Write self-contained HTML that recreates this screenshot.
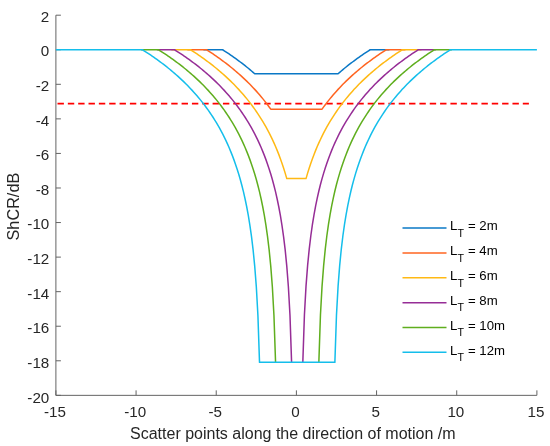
<!DOCTYPE html>
<html><head><meta charset="utf-8"><title>ShCR</title>
<style>html,body{margin:0;padding:0;background:#fff;}body{width:550px;height:446px;position:relative;overflow:hidden;font-family:"Liberation Sans",sans-serif;}</style>
</head><body>
<svg width="550" height="446" viewBox="0 0 550 446" style="position:absolute;left:0;top:0">
<rect width="550" height="446" fill="#fff"/>
<g stroke="#646464" stroke-width="1" fill="none">
<path d="M55.9,15.19 V395.35 H536.9"/>
<path d="M55.90,395.35 v-5"/>
<path d="M136.07,395.35 v-5"/>
<path d="M216.23,395.35 v-5"/>
<path d="M296.40,395.35 v-5"/>
<path d="M376.57,395.35 v-5"/>
<path d="M456.73,395.35 v-5"/>
<path d="M536.90,395.35 v-5"/>
<path d="M55.9,395.35 h5"/>
<path d="M55.9,360.79 h5"/>
<path d="M55.9,326.23 h5"/>
<path d="M55.9,291.67 h5"/>
<path d="M55.9,257.11 h5"/>
<path d="M55.9,222.55 h5"/>
<path d="M55.9,187.99 h5"/>
<path d="M55.9,153.43 h5"/>
<path d="M55.9,118.87 h5"/>
<path d="M55.9,84.31 h5"/>
<path d="M55.9,49.75 h5"/>
<path d="M55.9,15.19 h5"/>
</g>
<path d="M57.5,103.62 H528.9" stroke="#FF0000" stroke-width="1.6" stroke-dasharray="6.4,3.94" fill="none"/>
<path d="M203.41,49.75 L205.01,49.75 L206.61,49.75 L208.22,49.75 L209.82,49.75 L211.42,49.75 L213.03,49.75 L214.63,49.75 L216.23,49.75 L217.84,49.75 L219.44,49.75 L221.04,49.75 L222.65,49.75 L224.25,50.78 L225.85,51.83 L227.46,52.89 L229.06,53.97 L230.66,55.06 L232.27,56.17 L233.87,57.30 L235.47,58.44 L237.08,59.60 L238.68,60.78 L240.28,61.98 L241.89,63.20 L243.49,64.44 L245.09,65.70 L246.70,66.98 L248.30,68.28 L249.90,69.60 L251.51,70.95 L253.11,72.33 L254.71,73.72 L256.32,73.72 L257.92,73.72 L259.52,73.72 L261.13,73.72 L262.73,73.72 L264.33,73.72 L265.94,73.72 L267.54,73.72 L269.14,73.72 L270.75,73.72 L272.35,73.72 L273.95,73.72 L275.56,73.72 L277.16,73.72 L278.76,73.72 L280.37,73.72 L281.97,73.72 L283.57,73.72 L285.18,73.72 L286.78,73.72 L288.38,73.72 L289.99,73.72 L291.59,73.72 L293.19,73.72 L294.80,73.72 L296.40,73.72 L298.00,73.72 L299.61,73.72 L301.21,73.72 L302.81,73.72 L304.42,73.72 L306.02,73.72 L307.62,73.72 L309.23,73.72 L310.83,73.72 L312.43,73.72 L314.04,73.72 L315.64,73.72 L317.24,73.72 L318.85,73.72 L320.45,73.72 L322.05,73.72 L323.66,73.72 L325.26,73.72 L326.86,73.72 L328.47,73.72 L330.07,73.72 L331.67,73.72 L333.28,73.72 L334.88,73.72 L336.48,73.72 L338.09,73.72 L339.69,72.33 L341.29,70.95 L342.90,69.60 L344.50,68.28 L346.10,66.98 L347.71,65.70 L349.31,64.44 L350.91,63.20 L352.52,61.98 L354.12,60.78 L355.72,59.60 L357.33,58.44 L358.93,57.30 L360.53,56.17 L362.14,55.06 L363.74,53.97 L365.34,52.89 L366.95,51.83 L368.55,50.78 L370.15,49.75 L371.76,49.75 L373.36,49.75 L374.96,49.75 L376.57,49.75 L378.17,49.75 L379.77,49.75 L381.38,49.75 L382.98,49.75 L384.58,49.75 L386.19,49.75 L387.79,49.75 L389.39,49.75" fill="none" stroke="#0A78C6" stroke-width="1.5" stroke-linejoin="round"/>
<path d="M187.37,49.75 L188.98,49.75 L190.58,49.75 L192.18,49.75 L193.79,49.75 L195.39,49.75 L196.99,49.75 L198.60,49.75 L200.20,49.75 L201.80,49.75 L203.41,49.75 L205.01,49.75 L206.61,49.75 L208.22,50.78 L209.82,51.83 L211.42,52.89 L213.03,53.97 L214.63,55.06 L216.23,56.17 L217.84,57.30 L219.44,58.44 L221.04,59.60 L222.65,60.78 L224.25,61.98 L225.85,63.20 L227.46,64.44 L229.06,65.70 L230.66,66.98 L232.27,68.28 L233.87,69.60 L235.47,70.95 L237.08,72.33 L238.68,73.72 L240.28,75.15 L241.89,76.60 L243.49,78.09 L245.09,79.60 L246.70,81.14 L248.30,82.72 L249.90,84.33 L251.51,85.97 L253.11,87.65 L254.71,89.37 L256.32,91.13 L257.92,92.93 L259.52,94.78 L261.13,96.68 L262.73,98.62 L264.33,100.61 L265.94,102.66 L267.54,104.77 L269.14,106.93 L270.75,109.16 L272.35,109.16 L273.95,109.16 L275.56,109.16 L277.16,109.16 L278.76,109.16 L280.37,109.16 L281.97,109.16 L283.57,109.16 L285.18,109.16 L286.78,109.16 L288.38,109.16 L289.99,109.16 L291.59,109.16 L293.19,109.16 L294.80,109.16 L296.40,109.16 L298.00,109.16 L299.61,109.16 L301.21,109.16 L302.81,109.16 L304.42,109.16 L306.02,109.16 L307.62,109.16 L309.23,109.16 L310.83,109.16 L312.43,109.16 L314.04,109.16 L315.64,109.16 L317.24,109.16 L318.85,109.16 L320.45,109.16 L322.05,109.16 L323.66,106.93 L325.26,104.77 L326.86,102.66 L328.47,100.61 L330.07,98.62 L331.67,96.68 L333.28,94.78 L334.88,92.93 L336.48,91.13 L338.09,89.37 L339.69,87.65 L341.29,85.97 L342.90,84.33 L344.50,82.72 L346.10,81.14 L347.71,79.60 L349.31,78.09 L350.91,76.60 L352.52,75.15 L354.12,73.72 L355.72,72.33 L357.33,70.95 L358.93,69.60 L360.53,68.28 L362.14,66.98 L363.74,65.70 L365.34,64.44 L366.95,63.20 L368.55,61.98 L370.15,60.78 L371.76,59.60 L373.36,58.44 L374.96,57.30 L376.57,56.17 L378.17,55.06 L379.77,53.97 L381.38,52.89 L382.98,51.83 L384.58,50.78 L386.19,49.75 L387.79,49.75 L389.39,49.75 L391.00,49.75 L392.60,49.75 L394.20,49.75 L395.81,49.75 L397.41,49.75 L399.01,49.75 L400.62,49.75 L402.22,49.75 L403.82,49.75 L405.43,49.75" fill="none" stroke="#FF6420" stroke-width="1.5" stroke-linejoin="round"/>
<path d="M171.34,49.75 L172.94,49.75 L174.55,49.75 L176.15,49.75 L177.75,49.75 L179.36,49.75 L180.96,49.75 L182.56,49.75 L184.17,49.75 L185.77,49.75 L187.37,49.75 L188.98,49.75 L190.58,49.75 L192.18,50.78 L193.79,51.83 L195.39,52.89 L196.99,53.97 L198.60,55.06 L200.20,56.17 L201.80,57.30 L203.41,58.44 L205.01,59.60 L206.61,60.78 L208.22,61.98 L209.82,63.20 L211.42,64.44 L213.03,65.70 L214.63,66.98 L216.23,68.28 L217.84,69.60 L219.44,70.95 L221.04,72.33 L222.65,73.72 L224.25,75.15 L225.85,76.60 L227.46,78.09 L229.06,79.60 L230.66,81.14 L232.27,82.72 L233.87,84.33 L235.47,85.97 L237.08,87.65 L238.68,89.37 L240.28,91.13 L241.89,92.93 L243.49,94.78 L245.09,96.68 L246.70,98.62 L248.30,100.61 L249.90,102.66 L251.51,104.77 L253.11,106.93 L254.71,109.16 L256.32,111.46 L257.92,113.84 L259.52,116.29 L261.13,118.82 L262.73,121.44 L264.33,124.16 L265.94,126.97 L267.54,129.90 L269.14,132.95 L270.75,136.12 L272.35,139.44 L273.95,142.91 L275.56,146.55 L277.16,150.37 L278.76,154.40 L280.37,158.65 L281.97,163.17 L283.57,167.97 L285.18,173.10 L286.78,178.60 L288.38,178.60 L289.99,178.60 L291.59,178.60 L293.19,178.60 L294.80,178.60 L296.40,178.60 L298.00,178.60 L299.61,178.60 L301.21,178.60 L302.81,178.60 L304.42,178.60 L306.02,178.60 L307.62,173.10 L309.23,167.97 L310.83,163.17 L312.43,158.65 L314.04,154.40 L315.64,150.37 L317.24,146.55 L318.85,142.91 L320.45,139.44 L322.05,136.12 L323.66,132.95 L325.26,129.90 L326.86,126.97 L328.47,124.16 L330.07,121.44 L331.67,118.82 L333.28,116.29 L334.88,113.84 L336.48,111.46 L338.09,109.16 L339.69,106.93 L341.29,104.77 L342.90,102.66 L344.50,100.61 L346.10,98.62 L347.71,96.68 L349.31,94.78 L350.91,92.93 L352.52,91.13 L354.12,89.37 L355.72,87.65 L357.33,85.97 L358.93,84.33 L360.53,82.72 L362.14,81.14 L363.74,79.60 L365.34,78.09 L366.95,76.60 L368.55,75.15 L370.15,73.72 L371.76,72.33 L373.36,70.95 L374.96,69.60 L376.57,68.28 L378.17,66.98 L379.77,65.70 L381.38,64.44 L382.98,63.20 L384.58,61.98 L386.19,60.78 L387.79,59.60 L389.39,58.44 L391.00,57.30 L392.60,56.17 L394.20,55.06 L395.81,53.97 L397.41,52.89 L399.01,51.83 L400.62,50.78 L402.22,49.75 L403.82,49.75 L405.43,49.75 L407.03,49.75 L408.63,49.75 L410.24,49.75 L411.84,49.75 L413.44,49.75 L415.05,49.75 L416.65,49.75 L418.25,49.75 L419.86,49.75 L421.46,49.75" fill="none" stroke="#FFB914" stroke-width="1.5" stroke-linejoin="round"/>
<path d="M156.91,49.75 L158.51,49.75 L160.12,49.75 L161.72,49.75 L163.32,49.75 L164.93,49.75 L166.53,49.75 L168.13,49.75 L169.74,49.75 L171.34,49.75 L172.94,49.75 L174.55,49.75 L176.15,50.77 L177.75,51.80 L179.36,52.85 L180.96,53.91 L182.56,54.99 L184.17,56.08 L185.77,57.19 L187.37,58.32 L188.98,59.46 L190.58,60.62 L192.18,61.80 L193.79,63.00 L195.39,64.22 L196.99,65.45 L198.60,66.71 L200.20,67.99 L201.80,69.29 L203.41,70.62 L205.01,71.97 L206.61,73.34 L208.22,74.74 L209.82,76.16 L211.42,77.62 L213.03,79.10 L214.63,80.61 L216.23,82.15 L217.84,83.73 L219.44,85.34 L221.04,86.98 L222.65,88.66 L224.25,90.38 L225.85,92.14 L227.46,93.94 L229.06,95.79 L230.66,97.68 L232.27,99.62 L233.87,101.62 L235.47,103.66 L237.08,105.77 L238.68,107.93 L240.28,110.16 L241.89,112.46 L243.49,114.83 L245.09,117.28 L246.70,119.81 L248.30,122.43 L249.90,125.15 L251.51,127.96 L253.11,130.89 L254.71,133.93 L256.32,137.11 L257.92,140.42 L259.52,143.89 L261.13,147.52 L262.73,151.34 L264.33,155.37 L265.94,159.62 L267.54,164.13 L269.14,168.93 L270.75,174.05 L272.35,179.55 L273.95,185.48 L275.56,191.93 L277.16,198.98 L278.76,206.76 L280.37,215.45 L281.97,225.27 L283.57,236.58 L285.18,249.89 L286.78,266.09 L288.38,286.77 L289.99,315.42 L291.59,362.35 M302.81,362.35 L304.42,314.94 L306.02,286.11 L307.62,265.34 L309.23,249.08 L310.83,235.73 L312.43,224.40 L314.04,214.56 L315.64,205.86 L317.24,198.06 L318.85,191.00 L320.45,184.55 L322.05,178.60 L323.66,173.10 L325.26,167.97 L326.86,163.17 L328.47,158.65 L330.07,154.40 L331.67,150.37 L333.28,146.55 L334.88,142.91 L336.48,139.44 L338.09,136.12 L339.69,132.95 L341.29,129.90 L342.90,126.97 L344.50,124.16 L346.10,121.44 L347.71,118.82 L349.31,116.29 L350.91,113.84 L352.52,111.46 L354.12,109.16 L355.72,106.93 L357.33,104.77 L358.93,102.66 L360.53,100.61 L362.14,98.62 L363.74,96.68 L365.34,94.78 L366.95,92.93 L368.55,91.13 L370.15,89.37 L371.76,87.65 L373.36,85.97 L374.96,84.33 L376.57,82.72 L378.17,81.14 L379.77,79.60 L381.38,78.09 L382.98,76.60 L384.58,75.15 L386.19,73.72 L387.79,72.33 L389.39,70.95 L391.00,69.60 L392.60,68.28 L394.20,66.98 L395.81,65.70 L397.41,64.44 L399.01,63.20 L400.62,61.98 L402.22,60.78 L403.82,59.60 L405.43,58.44 L407.03,57.30 L408.63,56.17 L410.24,55.06 L411.84,53.97 L413.44,52.89 L415.05,51.83 L416.65,50.78 L418.25,49.75 L419.86,49.75 L421.46,49.75 L423.06,49.75 L424.67,49.75 L426.27,49.75 L427.87,49.75 L429.48,49.75 L431.08,49.75 L432.68,49.75 L434.29,49.75 L435.89,49.75" fill="none" stroke="#962D96" stroke-width="1.5" stroke-linejoin="round"/>
<path d="M140.88,49.75 L142.48,49.75 L144.08,49.75 L145.69,49.75 L147.29,49.75 L148.89,49.75 L150.50,49.75 L152.10,49.75 L153.70,49.75 L155.31,49.75 L156.91,49.75 L158.51,49.75 L160.12,50.77 L161.72,51.80 L163.32,52.85 L164.93,53.91 L166.53,54.99 L168.13,56.08 L169.74,57.19 L171.34,58.32 L172.94,59.46 L174.55,60.62 L176.15,61.80 L177.75,63.00 L179.36,64.22 L180.96,65.45 L182.56,66.71 L184.17,67.99 L185.77,69.29 L187.37,70.62 L188.98,71.97 L190.58,73.34 L192.18,74.74 L193.79,76.16 L195.39,77.62 L196.99,79.10 L198.60,80.61 L200.20,82.15 L201.80,83.73 L203.41,85.34 L205.01,86.98 L206.61,88.66 L208.22,90.38 L209.82,92.14 L211.42,93.94 L213.03,95.79 L214.63,97.68 L216.23,99.62 L217.84,101.62 L219.44,103.66 L221.04,105.77 L222.65,107.93 L224.25,110.16 L225.85,112.46 L227.46,114.83 L229.06,117.28 L230.66,119.81 L232.27,122.43 L233.87,125.15 L235.47,127.96 L237.08,130.89 L238.68,133.93 L240.28,137.11 L241.89,140.42 L243.49,143.89 L245.09,147.52 L246.70,151.34 L248.30,155.37 L249.90,159.62 L251.51,164.13 L253.11,168.93 L254.71,174.05 L256.32,179.55 L257.92,185.48 L259.52,191.93 L261.13,198.98 L262.73,206.76 L264.33,215.45 L265.94,225.27 L267.54,236.58 L269.14,249.89 L270.75,266.09 L272.35,286.77 L273.95,315.42 L275.56,362.35 M318.85,362.35 L320.45,314.94 L322.05,286.11 L323.66,265.34 L325.26,249.08 L326.86,235.73 L328.47,224.40 L330.07,214.56 L331.67,205.86 L333.28,198.06 L334.88,191.00 L336.48,184.55 L338.09,178.60 L339.69,173.10 L341.29,167.97 L342.90,163.17 L344.50,158.65 L346.10,154.40 L347.71,150.37 L349.31,146.55 L350.91,142.91 L352.52,139.44 L354.12,136.12 L355.72,132.95 L357.33,129.90 L358.93,126.97 L360.53,124.16 L362.14,121.44 L363.74,118.82 L365.34,116.29 L366.95,113.84 L368.55,111.46 L370.15,109.16 L371.76,106.93 L373.36,104.77 L374.96,102.66 L376.57,100.61 L378.17,98.62 L379.77,96.68 L381.38,94.78 L382.98,92.93 L384.58,91.13 L386.19,89.37 L387.79,87.65 L389.39,85.97 L391.00,84.33 L392.60,82.72 L394.20,81.14 L395.81,79.60 L397.41,78.09 L399.01,76.60 L400.62,75.15 L402.22,73.72 L403.82,72.33 L405.43,70.95 L407.03,69.60 L408.63,68.28 L410.24,66.98 L411.84,65.70 L413.44,64.44 L415.05,63.20 L416.65,61.98 L418.25,60.78 L419.86,59.60 L421.46,58.44 L423.06,57.30 L424.67,56.17 L426.27,55.06 L427.87,53.97 L429.48,52.89 L431.08,51.83 L432.68,50.78 L434.29,49.75 L435.89,49.75 L437.49,49.75 L439.10,49.75 L440.70,49.75 L442.30,49.75 L443.91,49.75 L445.51,49.75 L447.11,49.75 L448.72,49.75 L450.32,49.75 L451.92,49.75" fill="none" stroke="#5FAE1E" stroke-width="1.5" stroke-linejoin="round"/>
<path d="M55.90,49.75 L57.50,49.75 L59.11,49.75 L60.71,49.75 L62.31,49.75 L63.92,49.75 L65.52,49.75 L67.12,49.75 L68.73,49.75 L70.33,49.75 L71.93,49.75 L73.54,49.75 L75.14,49.75 L76.74,49.75 L78.35,49.75 L79.95,49.75 L81.55,49.75 L83.16,49.75 L84.76,49.75 L86.36,49.75 L87.97,49.75 L89.57,49.75 L91.17,49.75 L92.78,49.75 L94.38,49.75 L95.98,49.75 L97.59,49.75 L99.19,49.75 L100.79,49.75 L102.40,49.75 L104.00,49.75 L105.60,49.75 L107.21,49.75 L108.81,49.75 L110.41,49.75 L112.02,49.75 L113.62,49.75 L115.22,49.75 L116.83,49.75 L118.43,49.75 L120.03,49.75 L121.64,49.75 L123.24,49.75 L124.84,49.75 L126.45,49.75 L128.05,49.75 L129.65,49.75 L131.26,49.75 L132.86,49.75 L134.46,49.75 L136.07,49.75 L137.67,49.75 L139.27,49.75 L140.88,49.75 L142.48,49.75 L144.08,50.77 L145.69,51.80 L147.29,52.85 L148.89,53.91 L150.50,54.99 L152.10,56.08 L153.70,57.19 L155.31,58.32 L156.91,59.46 L158.51,60.62 L160.12,61.80 L161.72,63.00 L163.32,64.22 L164.93,65.45 L166.53,66.71 L168.13,67.99 L169.74,69.29 L171.34,70.62 L172.94,71.97 L174.55,73.34 L176.15,74.74 L177.75,76.16 L179.36,77.62 L180.96,79.10 L182.56,80.61 L184.17,82.15 L185.77,83.73 L187.37,85.34 L188.98,86.98 L190.58,88.66 L192.18,90.38 L193.79,92.14 L195.39,93.94 L196.99,95.79 L198.60,97.68 L200.20,99.62 L201.80,101.62 L203.41,103.66 L205.01,105.77 L206.61,107.93 L208.22,110.16 L209.82,112.46 L211.42,114.83 L213.03,117.28 L214.63,119.81 L216.23,122.43 L217.84,125.15 L219.44,127.96 L221.04,130.89 L222.65,133.93 L224.25,137.11 L225.85,140.42 L227.46,143.89 L229.06,147.52 L230.66,151.34 L232.27,155.37 L233.87,159.62 L235.47,164.13 L237.08,168.93 L238.68,174.05 L240.28,179.55 L241.89,185.48 L243.49,191.93 L245.09,198.98 L246.70,206.76 L248.30,215.45 L249.90,225.27 L251.51,236.58 L253.11,249.89 L254.71,266.09 L256.32,286.77 L257.92,315.42 L259.52,362.35 L261.13,362.35 L262.73,362.35 L264.33,362.35 L265.94,362.35 L267.54,362.35 L269.14,362.35 L270.75,362.35 L272.35,362.35 L273.95,362.35 L275.56,362.35 L277.16,362.35 L278.76,362.35 L280.37,362.35 L281.97,362.35 L283.57,362.35 L285.18,362.35 L286.78,362.35 L288.38,362.35 L289.99,362.35 L291.59,362.35 L293.19,362.35 L294.80,362.35 L296.40,362.35 L298.00,362.35 L299.61,362.35 L301.21,362.35 L302.81,362.35 L304.42,362.35 L306.02,362.35 L307.62,362.35 L309.23,362.35 L310.83,362.35 L312.43,362.35 L314.04,362.35 L315.64,362.35 L317.24,362.35 L318.85,362.35 L320.45,362.35 L322.05,362.35 L323.66,362.35 L325.26,362.35 L326.86,362.35 L328.47,362.35 L330.07,362.35 L331.67,362.35 L333.28,362.35 L334.88,362.35 L336.48,314.94 L338.09,286.11 L339.69,265.34 L341.29,249.08 L342.90,235.73 L344.50,224.40 L346.10,214.56 L347.71,205.86 L349.31,198.06 L350.91,191.00 L352.52,184.55 L354.12,178.60 L355.72,173.10 L357.33,167.97 L358.93,163.17 L360.53,158.65 L362.14,154.40 L363.74,150.37 L365.34,146.55 L366.95,142.91 L368.55,139.44 L370.15,136.12 L371.76,132.95 L373.36,129.90 L374.96,126.97 L376.57,124.16 L378.17,121.44 L379.77,118.82 L381.38,116.29 L382.98,113.84 L384.58,111.46 L386.19,109.16 L387.79,106.93 L389.39,104.77 L391.00,102.66 L392.60,100.61 L394.20,98.62 L395.81,96.68 L397.41,94.78 L399.01,92.93 L400.62,91.13 L402.22,89.37 L403.82,87.65 L405.43,85.97 L407.03,84.33 L408.63,82.72 L410.24,81.14 L411.84,79.60 L413.44,78.09 L415.05,76.60 L416.65,75.15 L418.25,73.72 L419.86,72.33 L421.46,70.95 L423.06,69.60 L424.67,68.28 L426.27,66.98 L427.87,65.70 L429.48,64.44 L431.08,63.20 L432.68,61.98 L434.29,60.78 L435.89,59.60 L437.49,58.44 L439.10,57.30 L440.70,56.17 L442.30,55.06 L443.91,53.97 L445.51,52.89 L447.11,51.83 L448.72,50.78 L450.32,49.75 L451.92,49.75 L453.53,49.75 L455.13,49.75 L456.73,49.75 L458.34,49.75 L459.94,49.75 L461.54,49.75 L463.15,49.75 L464.75,49.75 L466.35,49.75 L467.96,49.75 L469.56,49.75 L471.16,49.75 L472.77,49.75 L474.37,49.75 L475.97,49.75 L477.58,49.75 L479.18,49.75 L480.78,49.75 L482.39,49.75 L483.99,49.75 L485.59,49.75 L487.20,49.75 L488.80,49.75 L490.40,49.75 L492.01,49.75 L493.61,49.75 L495.21,49.75 L496.82,49.75 L498.42,49.75 L500.02,49.75 L501.63,49.75 L503.23,49.75 L504.83,49.75 L506.44,49.75 L508.04,49.75 L509.64,49.75 L511.25,49.75 L512.85,49.75 L514.45,49.75 L516.06,49.75 L517.66,49.75 L519.26,49.75 L520.87,49.75 L522.47,49.75 L524.07,49.75 L525.68,49.75 L527.28,49.75 L528.88,49.75 L530.49,49.75 L532.09,49.75 L533.69,49.75 L535.30,49.75 L536.90,49.75" fill="none" stroke="#14BEEB" stroke-width="1.5" stroke-linejoin="round"/>
<g font-family="Liberation Sans, sans-serif" font-size="15.2" fill="#262626">
<text x="55.00" y="417.1" text-anchor="middle">-15</text>
<text x="135.17" y="417.1" text-anchor="middle">-10</text>
<text x="215.33" y="417.1" text-anchor="middle">-5</text>
<text x="295.50" y="417.1" text-anchor="middle">0</text>
<text x="375.67" y="417.1" text-anchor="middle">5</text>
<text x="455.83" y="417.1" text-anchor="middle">10</text>
<text x="536.00" y="417.1" text-anchor="middle">15</text>
<text x="49.3" y="402.68" text-anchor="end">-20</text>
<text x="49.3" y="368.04" text-anchor="end">-18</text>
<text x="49.3" y="333.40" text-anchor="end">-16</text>
<text x="49.3" y="298.76" text-anchor="end">-14</text>
<text x="49.3" y="264.12" text-anchor="end">-12</text>
<text x="49.3" y="229.48" text-anchor="end">-10</text>
<text x="49.3" y="194.84" text-anchor="end">-8</text>
<text x="49.3" y="160.20" text-anchor="end">-6</text>
<text x="49.3" y="125.56" text-anchor="end">-4</text>
<text x="49.3" y="90.92" text-anchor="end">-2</text>
<text x="49.3" y="56.28" text-anchor="end">0</text>
<text x="49.3" y="21.64" text-anchor="end">2</text>
</g>
<g font-family="Liberation Sans, sans-serif" font-size="16" fill="#262626">
<text x="292.8" y="439.1" text-anchor="middle">Scatter points along the direction of motion /m</text>
<text transform="translate(18.5,206.6) rotate(-90)" text-anchor="middle" font-size="16.25">ShCR/dB</text>
</g>
<g font-family="Liberation Sans, sans-serif" font-size="13.2" fill="#000">
<path d="M402.5,228 H446.5" stroke="#0A78C6" stroke-width="1.5"/>
<text x="450" y="230.4">L</text><text x="457.6" y="236.7" font-size="10.6">T</text><text x="468" y="230.4">= 2m</text>
<path d="M402.5,253 H446.5" stroke="#FF6420" stroke-width="1.5"/>
<text x="450" y="255.4">L</text><text x="457.6" y="261.7" font-size="10.6">T</text><text x="468" y="255.4">= 4m</text>
<path d="M402.5,277.8 H446.5" stroke="#FFB914" stroke-width="1.5"/>
<text x="450" y="280.2">L</text><text x="457.6" y="286.5" font-size="10.6">T</text><text x="468" y="280.2">= 6m</text>
<path d="M402.5,302.7 H446.5" stroke="#962D96" stroke-width="1.5"/>
<text x="450" y="305.1">L</text><text x="457.6" y="311.4" font-size="10.6">T</text><text x="468" y="305.1">= 8m</text>
<path d="M402.5,327.5 H446.5" stroke="#5FAE1E" stroke-width="1.5"/>
<text x="450" y="329.9">L</text><text x="457.6" y="336.2" font-size="10.6">T</text><text x="468" y="329.9">= 10m</text>
<path d="M402.5,352.3 H446.5" stroke="#14BEEB" stroke-width="1.5"/>
<text x="450" y="354.7">L</text><text x="457.6" y="361.0" font-size="10.6">T</text><text x="468" y="354.7">= 12m</text>
</g>
</svg>
</body></html>
